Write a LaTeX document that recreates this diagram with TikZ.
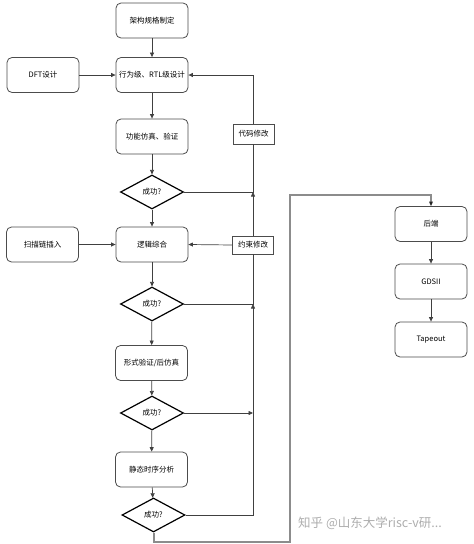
\documentclass[tikz,border=0pt]{standalone}
\usepackage{fontspec}
\setmainfont{Noto Sans CJK SC}
\usetikzlibrary{arrows.meta,shapes.geometric}
\begin{document}
\begin{tikzpicture}[x=1pt,y=-1pt,
  box/.style={draw=black!70, fill=white, rounded corners=5pt, minimum width=72pt, minimum height=35pt, inner sep=1pt, font=\fontsize{7.5}{9}\selectfont, line width=0.8pt},
  dia/.style={draw=black, fill=white, diamond, minimum width=63pt, minimum height=34pt, inner sep=0pt, line width=1.2pt, font=\fontsize{7.5}{9}\selectfont},
  rbox/.style={draw=black!70, fill=white, minimum width=41pt, minimum height=20pt, inner sep=1pt, font=\fontsize{7.5}{9}\selectfont, line width=0.7pt},
  conn/.style={draw=black!75, line width=0.7pt},
  arr/.style={conn, -{Triangle[length=4.5pt,width=4pt]}},
  big/.style={draw=black!45, line width=2pt, -{Triangle[length=4.5pt,width=4pt,line width=0pt,fill=black!85,color=black!85]}}]
\useasboundingbox (0,0) rectangle (474,544);
\node[box] (arch) at (152,20.5) {架构规格制定};
\node[box] (rtl) at (152,75) {行为级、RTL级设计};
\node[box] (dft) at (43,75) {DFT设计};
\node[box] (func) at (152,136.5) {功能仿真、验证};
\node[dia] (d1) at (152,192) {成功?};
\node[rbox] (code) at (253.5,134) {代码修改};
\node[box] (scan) at (42.5,244.5) {扫描链插入};
\node[box] (syn) at (152,244.5) {逻辑综合};
\node[rbox, minimum height=18pt] (cons) at (253,245) {约束修改};
\node[dia] (d2) at (152,304) {成功?};
\node[box] (form) at (151.5,363) {形式验证/后仿真};
\node[dia] (d3) at (152,413) {成功?};
\node[box] (sta) at (151.5,469.5) {静态时序分析};
\node[dia] (d4) at (153.5,515) {成功?};
\node[box] (be) at (431,224) {后端};
\node[box] (gds) at (431,281.5) {GDSII};
\node[box] (tape) at (431,339.5) {Tapeout};
\node[text=black!32, font=\fontsize{12.5}{14}\selectfont, anchor=west, inner sep=0pt] (wm) at (298,523) {知乎 @山东大学risc-v研...};
% main flow
\draw[arr] (arch) -- (rtl);
\draw[arr] (dft) -- (rtl);
\draw[arr] (rtl) -- (func);
\draw[arr] (func) -- (d1);
\draw[arr] (d1) -- (syn);
\draw[arr] (scan) -- (syn);
\draw[arr] (syn) -- (d2);
\draw[arr] (d2) -- (form);
\draw[arr] (form) -- (d3);
\draw[arr] (d3) -- (sta);
\draw[arr] (sta) -- (d4);
% feedback
\draw[conn] (d1.east) -- (d1.east -| code.south) -- (code.south);
\draw[arr] (code.north) |- (rtl.east);
\draw[arr] (cons.north) -- (cons.north |- d1.east);
\draw[arr] (cons.west) -- (syn.east);
\draw[conn] (d2.east) -| (cons.south);
\draw[arr] (d3.east) -- (d3.east -| cons.south);
\draw[arr] (d4.east) -- (d4.east -| cons.south) -- (d2.east -| cons.south);
% to backend
\coordinate (c1) at (290,542);
\coordinate (c2) at (290,195);
\draw[big] (d4.south) |- (c1) -- (c2) -| (be.north);
\draw[arr] (be) -- (gds);
\draw[arr] (gds) -- (tape);
\end{tikzpicture}
\end{document}
